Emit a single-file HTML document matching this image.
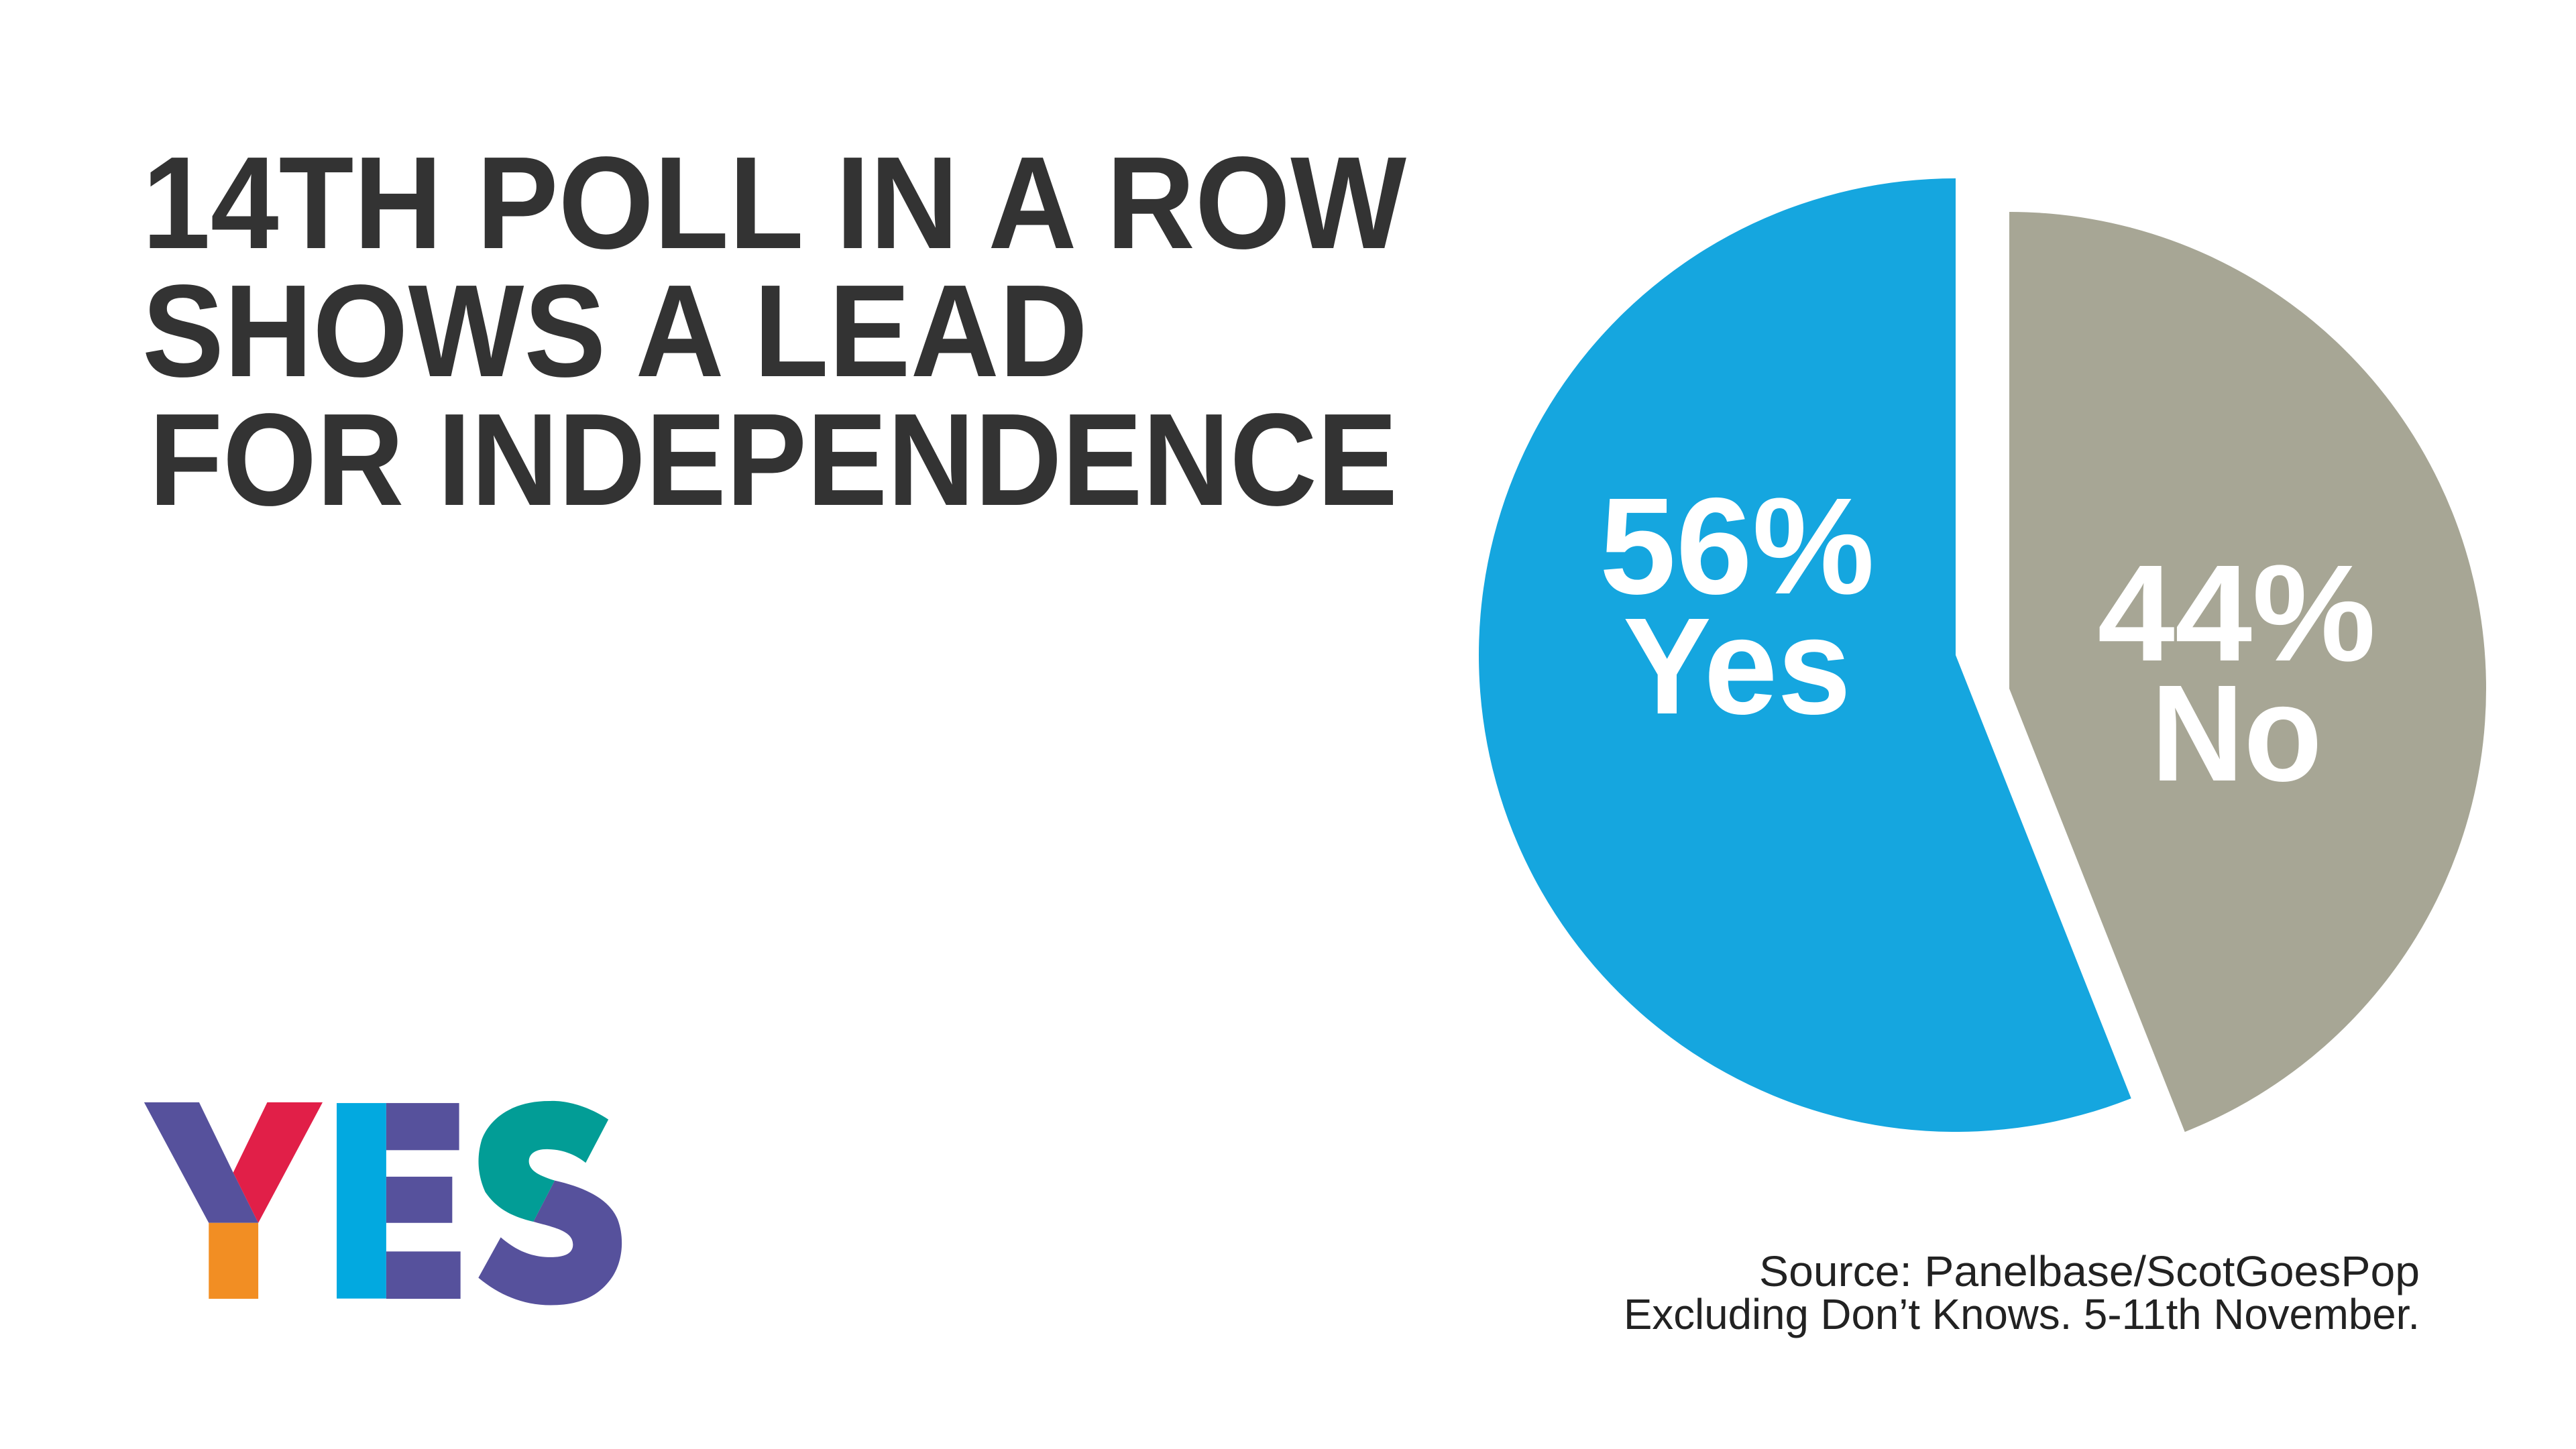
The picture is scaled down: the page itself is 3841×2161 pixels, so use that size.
<!DOCTYPE html>
<html><head><meta charset="utf-8"><style>
html,body{margin:0;padding:0;background:#fff;}
svg{display:block;}
</style></head><body>
<svg id="chart" width="3841" height="2161" viewBox="0 0 3841 2161" xmlns="http://www.w3.org/2000/svg">
<rect width="3841" height="2161" fill="#fff"/>
<g font-family="Liberation Sans, sans-serif" font-weight="bold" fill="#333333">
<text x="212" y="370" font-size="196" textLength="1885" lengthAdjust="spacingAndGlyphs">14TH POLL IN A ROW</text>
<text x="212" y="561" font-size="196" textLength="1410" lengthAdjust="spacingAndGlyphs">SHOWS A LEAD</text>
<text x="222" y="753" font-size="196" textLength="1862" lengthAdjust="spacingAndGlyphs">FOR INDEPENDENCE</text>
</g>
<g id="pie"></g>
<g font-family="Liberation Sans, sans-serif" font-weight="300" fill="#222" font-size="64" text-anchor="end">
<text x="3608" y="1918" textLength="985" lengthAdjust="spacingAndGlyphs">Source: Panelbase/ScotGoesPop</text>
<text x="3608" y="1982" textLength="1187" lengthAdjust="spacingAndGlyphs">Excluding Don’t Knows. 5-11th November.</text>
</g>
<g transform="translate(180,1597) scale(0.5128,0.341)">
<polygon points="68,138 228,138 327,445 400,665 256,665" fill="#56519c"/>
<polygon points="426,138 587,138 400,665 327,445" fill="#e11f48"/>
<rect x="256" y="665" width="144" height="332" fill="#f28e23"/>
<rect x="628" y="141" width="144" height="855" fill="#02a9e0"/>
<rect x="772" y="141" width="212" height="206" fill="#56519c"/>
<rect x="772" y="463" width="192" height="202" fill="#56519c"/>
<rect x="772" y="790" width="216" height="207" fill="#56519c"/>
<path d="M1418,213 C1340,135 1270,130 1250,132 C1130,130 1070,220 1050,300 C1030,400 1045,480 1060,530 C1100,620 1160,645 1200,660 L1262,480 C1220,460 1190,440 1187,400 C1185,360 1210,340 1245,343 C1290,345 1325,370 1352,402 Z" fill="#029d96"/>
<path d="M1262,480 L1200,660 C1260,685 1315,700 1315,760 C1315,800 1290,815 1250,815 C1190,815 1145,780 1105,728 L1040,905 C1100,980 1170,1025 1250,1025 C1330,1025 1390,990 1430,900 C1460,830 1465,730 1445,650 C1420,560 1350,510 1262,480 Z" fill="#56519c"/>
</g>
</svg>
<script>
const categories = ["Yes", "No"];
const values = [56, 44];
const labels = ["56%", "44%"];

const NS = "http://www.w3.org/2000/svg";
const pie = document.getElementById("pie");
const R = 711;
const centers = [[2916, 977], [2996, 1027]];
const colors = ["#15a6df", "#a7a695"];
const total = values.reduce((a, b) => a + b, 0);
function pt(c, a) { return [c[0] + R * Math.sin(a), c[1] - R * Math.cos(a)]; }
values.forEach((v, i) => {
  const sweep = v / total * 2 * Math.PI;
  const c = centers[i];
  const s = pt(c, 0);
  const e = pt(c, i === 0 ? -sweep : sweep);
  const large = sweep > Math.PI ? 1 : 0;
  const dir = i === 0 ? 0 : 1;
  const p = document.createElementNS(NS, "path");
  p.setAttribute("d", `M${c[0]},${c[1]} L${s[0]},${s[1]} A${R},${R} 0 ${large} ${dir} ${e[0]},${e[1]} Z`);
  p.setAttribute("fill", colors[i]);
  
  
  pie.appendChild(p);
});
const labelPos = [[2590, 885, 1064, 410, 340], [3335, 985, 1164, 415, 255]];
values.forEach((v, i) => {
  const lp = labelPos[i];
  const t1 = document.createElementNS(NS, "text");
  t1.setAttribute("x", lp[0]); t1.setAttribute("y", lp[1]);
  t1.setAttribute("text-anchor", "middle");
  t1.setAttribute("font-family", "Liberation Sans, sans-serif");
  t1.setAttribute("font-weight", "bold");
  t1.setAttribute("font-size", "205");
  t1.setAttribute("fill", "#fff");
  t1.setAttribute("textLength", lp[3]);
  t1.setAttribute("lengthAdjust", "spacingAndGlyphs");
  t1.textContent = labels[i];
  
  
  pie.appendChild(t1);
  const t2 = document.createElementNS(NS, "text");
  t2.setAttribute("x", lp[0]); t2.setAttribute("y", lp[2]);
  t2.setAttribute("text-anchor", "middle");
  t2.setAttribute("font-family", "Liberation Sans, sans-serif");
  t2.setAttribute("font-weight", "bold");
  t2.setAttribute("font-size", "205");
  t2.setAttribute("fill", "#fff");
  t2.setAttribute("textLength", lp[4]);
  t2.setAttribute("lengthAdjust", "spacingAndGlyphs");
  t2.textContent = categories[i];
  
  
  pie.appendChild(t2);
});
</script>
</body></html>
